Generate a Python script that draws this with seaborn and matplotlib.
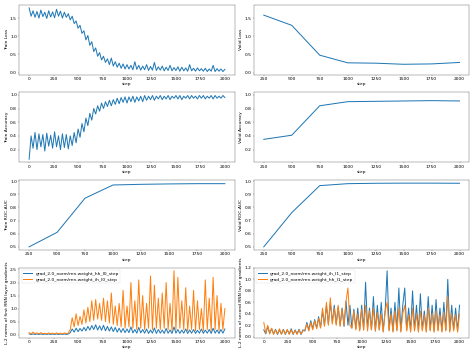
import pandas as pd
import seaborn as sns
import matplotlib
matplotlib.use("Agg")
import matplotlib.pyplot as plt
from matplotlib.ticker import MultipleLocator

# training log steps (every 20th step) and validation checkpoints
steps = list(range(0, 2001, 20))
val_steps = [250, 500, 750, 1000, 1250, 1500, 1750, 2000]

train_loss = [
    1.78, 1.55, 1.70, 1.52, 1.68, 1.50, 1.72, 1.54, 1.66, 1.49,
    1.70, 1.53, 1.67, 1.51, 1.74, 1.55, 1.69, 1.50, 1.66, 1.52,
    1.62, 1.45, 1.55, 1.35, 1.42, 1.22, 1.30, 1.08, 1.15, 0.90,
    1.02, 0.75, 0.85, 0.58, 0.68, 0.45, 0.55, 0.35, 0.45, 0.28,
    0.38, 0.22, 0.40, 0.18, 0.30, 0.15, 0.26, 0.12, 0.24, 0.10,
    0.22, 0.10, 0.20, 0.08, 0.30, 0.09, 0.20, 0.07, 0.18, 0.08,
    0.22, 0.06, 0.17, 0.07, 0.28, 0.06, 0.16, 0.07, 0.18, 0.05,
    0.15, 0.06, 0.20, 0.05, 0.14, 0.06, 0.16, 0.04, 0.15, 0.05,
    0.13, 0.04, 0.22, 0.05, 0.12, 0.04, 0.13, 0.05, 0.11, 0.04,
    0.12, 0.03, 0.10, 0.04, 0.20, 0.03, 0.11, 0.04, 0.10, 0.03,
    0.09,
]
train_acc = [
    0.06, 0.40, 0.22, 0.45, 0.20, 0.43, 0.24, 0.42, 0.18, 0.44,
    0.25, 0.41, 0.22, 0.46, 0.24, 0.40, 0.20, 0.43, 0.23, 0.42,
    0.21, 0.40, 0.26, 0.45, 0.30, 0.50, 0.38, 0.58, 0.46, 0.66,
    0.55, 0.73, 0.63, 0.80, 0.72, 0.84, 0.76, 0.88, 0.80, 0.90,
    0.83, 0.92, 0.84, 0.93, 0.86, 0.95, 0.87, 0.96, 0.89, 0.97,
    0.88, 0.97, 0.90, 0.98, 0.89, 0.97, 0.91, 0.98, 0.90, 0.99,
    0.92, 0.98, 0.93, 0.99, 0.92, 0.98, 0.94, 0.99, 0.93, 0.98,
    0.94, 0.99, 0.93, 0.98, 0.95, 0.99, 0.94, 0.99, 0.93, 0.98,
    0.95, 0.99, 0.94, 0.99, 0.95, 0.98, 0.94, 0.99, 0.95, 0.99,
    0.94, 0.98, 0.95, 0.99, 0.94, 0.99, 0.95, 0.98, 0.95, 0.99,
    0.96,
]

valid_loss = [1.58, 1.30, 0.48, 0.27, 0.26, 0.23, 0.24, 0.28]
valid_acc = [0.35, 0.41, 0.84, 0.90, 0.905, 0.91, 0.915, 0.91]
train_auc = [0.50, 0.61, 0.87, 0.97, 0.975, 0.978, 0.98, 0.98]
valid_auc = [0.50, 0.76, 0.965, 0.98, 0.983, 0.984, 0.984, 0.983]

# L-2 norms of gradients, first RNN layer
grad_hh_l0 = [
    0.03, 0.01, 0.03, 0.01, 0.03, 0.01, 0.03, 0.01, 0.03, 0.01,
    0.03, 0.01, 0.03, 0.01, 0.03, 0.01, 0.03, 0.01, 0.03, 0.01,
    0.03, 0.08, 0.22, 0.10, 0.25, 0.12, 0.24, 0.14, 0.28, 0.15,
    0.32, 0.18, 0.35, 0.20, 0.38, 0.18, 0.34, 0.17, 0.36, 0.15,
    0.32, 0.14, 0.30, 0.12, 0.28, 0.10, 0.25, 0.09, 0.24, 0.08,
    0.22, 0.08, 0.30, 0.07, 0.20, 0.06, 0.28, 0.07, 0.20, 0.06,
    0.22, 0.05, 0.18, 0.06, 0.26, 0.05, 0.20, 0.06, 0.18, 0.05,
    0.24, 0.06, 0.18, 0.05, 0.30, 0.06, 0.20, 0.05, 0.18, 0.06,
    0.22, 0.05, 0.18, 0.06, 0.20, 0.05, 0.17, 0.06, 0.22, 0.05,
    0.18, 0.06, 0.20, 0.05, 0.25, 0.06, 0.18, 0.05, 0.20, 0.06,
    0.22,
]
grad_ih_l0 = [
    0.08, 0.03, 0.10, 0.04, 0.07, 0.03, 0.08, 0.04, 0.06, 0.03,
    0.07, 0.04, 0.06, 0.03, 0.07, 0.04, 0.06, 0.03, 0.07, 0.04,
    0.06, 0.20, 0.65, 0.30, 0.80, 0.35, 0.70, 0.40, 0.95, 0.45,
    1.05, 0.50, 1.30, 0.55, 1.35, 0.60, 1.20, 0.55, 1.40, 0.50,
    1.30, 0.45, 1.60, 0.40, 1.10, 0.35, 1.20, 0.30, 1.70, 0.25,
    1.10, 0.30, 2.00, 0.25, 1.30, 0.20, 2.10, 0.25, 1.50, 0.20,
    1.20, 0.25, 2.25, 0.20, 1.90, 0.25, 1.40, 0.20, 1.60, 0.25,
    2.00, 0.20, 1.20, 0.15, 2.45, 0.20, 2.20, 0.25, 1.30, 0.20,
    1.80, 0.15, 1.10, 0.20, 1.70, 0.15, 1.30, 0.20, 1.00, 0.15,
    2.10, 0.20, 1.40, 0.15, 2.20, 0.20, 1.50, 0.15, 1.20, 0.20,
    1.00,
]

# L-2 norms of gradients, second RNN layer
grad_ih_l1 = [
    0.12, 0.05, 0.18, 0.06, 0.14, 0.05, 0.13, 0.04, 0.12, 0.05,
    0.13, 0.04, 0.12, 0.05, 0.14, 0.04, 0.12, 0.05, 0.13, 0.04,
    0.12, 0.10, 0.25, 0.12, 0.28, 0.14, 0.30, 0.15, 0.35, 0.16,
    0.45, 0.20, 0.55, 0.22, 0.60, 0.25, 0.55, 0.22, 0.52, 0.20,
    0.50, 0.18, 0.62, 0.20, 0.55, 0.15, 0.48, 0.14, 0.50, 0.12,
    0.55, 0.12, 0.95, 0.15, 0.50, 0.12, 0.70, 0.10, 0.55, 0.12,
    0.60, 0.10, 0.45, 1.15, 0.12, 0.50, 0.10, 0.60, 0.12, 0.85,
    0.10, 0.55, 0.85, 0.12, 0.50, 0.10, 0.80, 0.12, 0.55, 0.10,
    0.75, 0.12, 0.45, 0.10, 0.70, 0.12, 0.55, 0.10, 0.65, 0.12,
    0.50, 0.10, 0.60, 0.12, 1.00, 0.10, 0.55, 0.12, 0.50, 0.10,
    0.55,
]
grad_hh_l1 = [
    0.25, 0.06, 0.20, 0.05, 0.15, 0.04, 0.12, 0.05, 0.14, 0.04,
    0.12, 0.05, 0.13, 0.04, 0.12, 0.05, 0.11, 0.04, 0.12, 0.05,
    0.10, 0.12, 0.22, 0.10, 0.25, 0.12, 0.28, 0.14, 0.32, 0.15,
    0.50, 0.18, 0.60, 0.20, 0.68, 0.22, 0.50, 0.20, 0.55, 0.18,
    0.48, 0.20, 0.62, 0.85, 0.20, 0.15, 0.45, 0.12, 0.40, 0.10,
    0.48, 0.12, 0.55, 0.10, 0.45, 0.12, 0.50, 0.10, 0.42, 0.12,
    0.40, 0.08, 0.45, 0.60, 0.10, 0.40, 0.08, 0.45, 0.10, 0.50,
    0.08, 0.40, 0.55, 0.10, 0.38, 0.08, 0.50, 0.10, 0.40, 0.08,
    0.45, 0.10, 0.38, 0.08, 0.50, 0.10, 0.40, 0.08, 0.45, 0.10,
    0.38, 0.08, 0.42, 0.10, 0.70, 0.08, 0.40, 0.10, 0.38, 0.08,
    0.40,
]

train_df = pd.DataFrame({
    "step": steps, "train_loss": train_loss, "train_acc": train_acc,
    "hh_l0": grad_hh_l0, "ih_l0": grad_ih_l0,
    "ih_l1": grad_ih_l1, "hh_l1": grad_hh_l1,
})
valid_df = pd.DataFrame({
    "step": val_steps, "valid_loss": valid_loss, "valid_acc": valid_acc,
    "train_auc": train_auc, "valid_auc": valid_auc,
})

blue, orange = "#1f77b4", "#ff7f0e"
plt.rcParams["font.size"] = 13
lw = 3

fig, axes = plt.subplots(4, 2, figsize=(474 / 24, 354 / 24), dpi=24)

sns.lineplot(data=train_df, x="step", y="train_loss", ax=axes[0, 0], color=blue, lw=lw)
axes[0, 0].set_ylabel("Train Loss")
sns.lineplot(data=valid_df, x="step", y="valid_loss", ax=axes[0, 1], color=blue, lw=lw)
axes[0, 1].set_ylabel("Valid Loss")

sns.lineplot(data=train_df, x="step", y="train_acc", ax=axes[1, 0], color=blue, lw=lw)
axes[1, 0].set_ylabel("Train Accuracy")
sns.lineplot(data=valid_df, x="step", y="valid_acc", ax=axes[1, 1], color=blue, lw=lw)
axes[1, 1].set_ylabel("Valid Accuracy")

sns.lineplot(data=valid_df, x="step", y="train_auc", ax=axes[2, 0], color=blue, lw=lw)
axes[2, 0].set_ylabel("Train ROC-AUC")
sns.lineplot(data=valid_df, x="step", y="valid_auc", ax=axes[2, 1], color=blue, lw=lw)
axes[2, 1].set_ylabel("Valid ROC-AUC")

# same y range per row for the top three rows
for r in range(3):
    lo = min(axes[r, 0].get_ylim()[0], axes[r, 1].get_ylim()[0])
    hi = max(axes[r, 0].get_ylim()[1], axes[r, 1].get_ylim()[1])
    axes[r, 0].set_ylim(lo, hi)
    axes[r, 1].set_ylim(lo, hi)

sns.lineplot(data=train_df, x="step", y="hh_l0", ax=axes[3, 0], color=blue, lw=lw,
             label="grad_2.0_norm/rnn.weight_hh_l0_step")
sns.lineplot(data=train_df, x="step", y="ih_l0", ax=axes[3, 0], color=orange, lw=lw,
             label="grad_2.0_norm/rnn.weight_ih_l0_step")
axes[3, 0].set_ylabel("L-2 norms of first RNN layer gradients")
axes[3, 0].legend(loc="upper left")

sns.lineplot(data=train_df, x="step", y="ih_l1", ax=axes[3, 1], color=blue, lw=lw,
             label="grad_2.0_norm/rnn.weight_ih_l1_step")
sns.lineplot(data=train_df, x="step", y="hh_l1", ax=axes[3, 1], color=orange, lw=lw,
             label="grad_2.0_norm/rnn.weight_hh_l1_step")
axes[3, 1].set_ylabel("L-2 norms of second RNN layer gradients")
axes[3, 1].legend(loc="upper left")

ytick_steps = [[0.5, 0.5], [0.2, 0.2], [0.1, 0.1], [0.5, 0.2]]
for r in range(4):
    for c in range(2):
        ax = axes[r, c]
        ax.set_xlabel("step")
        ax.xaxis.set_major_locator(MultipleLocator(250))
        ax.yaxis.set_major_locator(MultipleLocator(ytick_steps[r][c]))

plt.tight_layout()
plt.savefig("out.png", dpi=24)
